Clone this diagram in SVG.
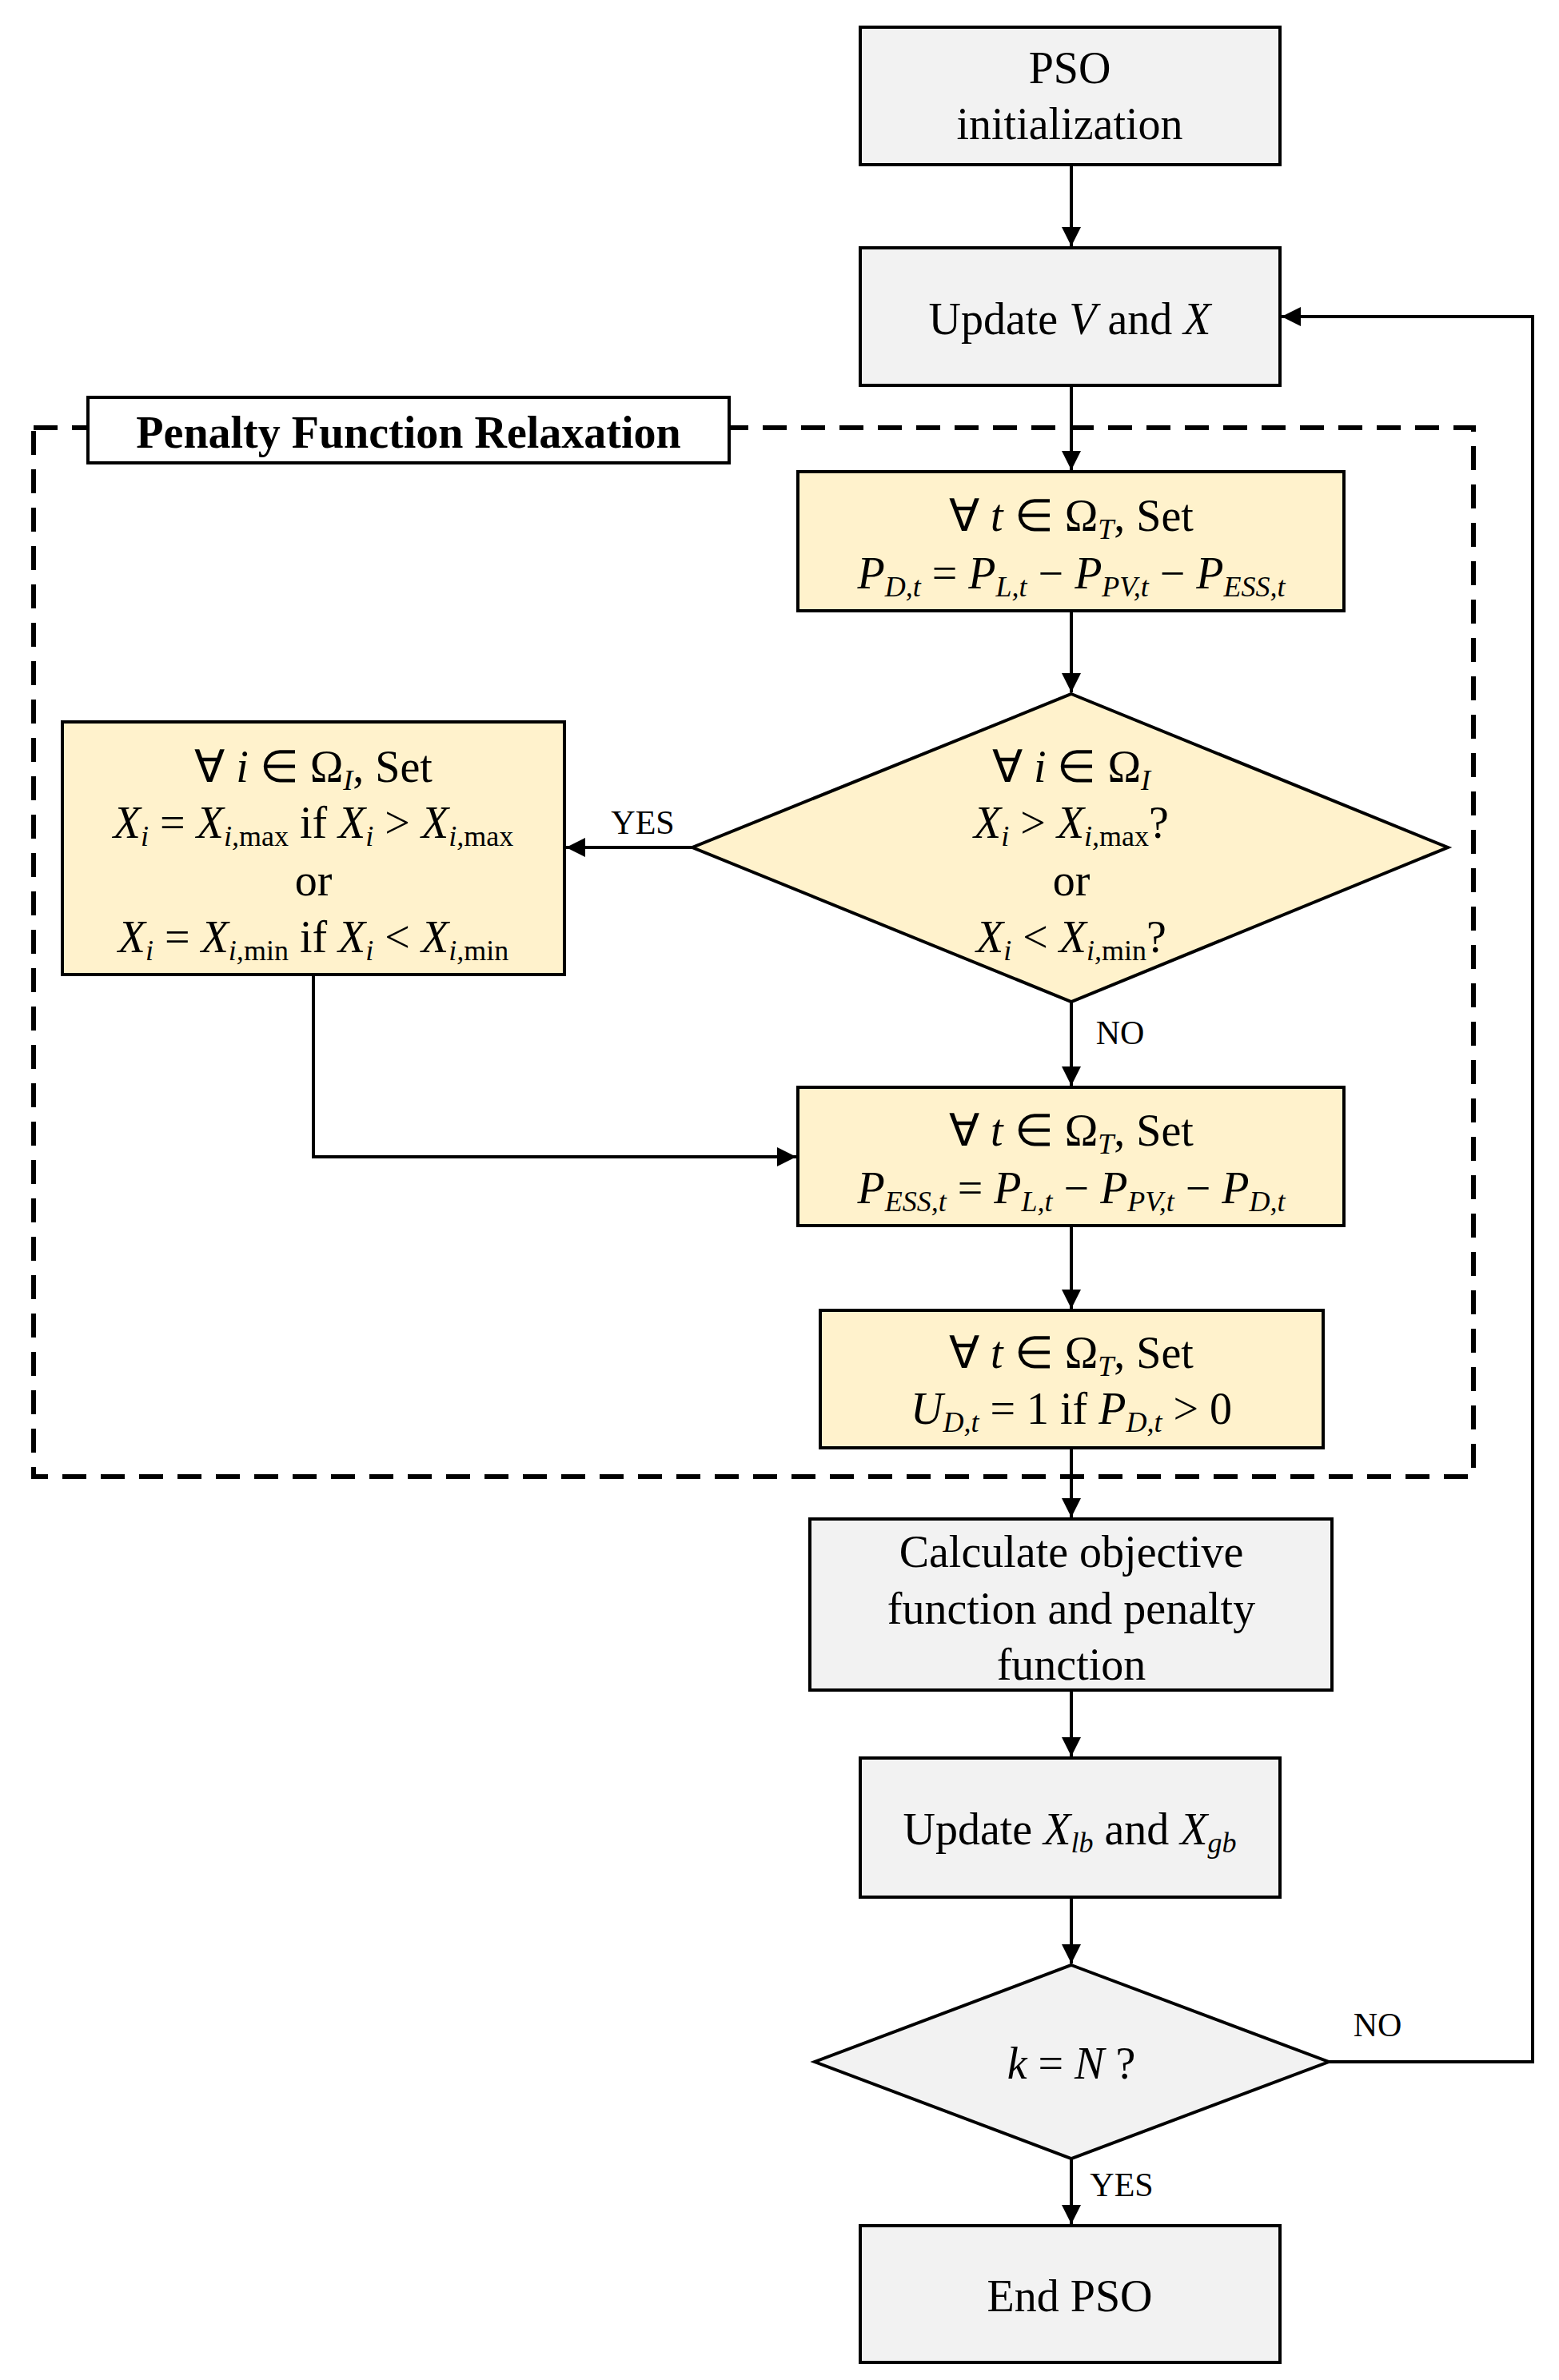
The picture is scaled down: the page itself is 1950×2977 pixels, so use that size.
<svg xmlns="http://www.w3.org/2000/svg" width="1950" height="2977" viewBox="0 0 1950 2977">
<style>
text{font-family:"Liberation Serif","Times New Roman",serif;font-size:56px;fill:#000;text-anchor:middle}
.g{fill:#f2f2f2;stroke:#000;stroke-width:4}
.y{fill:#fff2cc;stroke:#000;stroke-width:4}
.c{fill:none;stroke:#000;stroke-width:4}
.i{font-style:italic}
.s{font-size:36px;font-style:italic}
.l{font-size:42px}
</style>
<defs><marker id="ah" viewBox="0 0 10 10" refX="10" refY="5" markerWidth="6" markerHeight="6" orient="auto"><path d="M0,0L10,5L0,10z" fill="#000"/></marker></defs>
<g id="frame"><rect x="42" y="535" width="1801" height="1312" fill="none" stroke="#000" stroke-width="6" stroke-dasharray="30,18"/>
<rect x="110" y="497" width="802" height="82" fill="#fff" stroke="#000" stroke-width="4"/>
<text x="511" y="560" font-weight="bold" font-size="58">Penalty Function Relaxation</text></g>
<g id="connectors" class="c" marker-end="url(#ah)">
<path d="M1340,206V308"/><path d="M1340,482V588"/><path d="M1340,764V866"/>
<path d="M866,1060H708"/><path d="M1340,1253V1358"/><path d="M392,1219V1447H996"/>
<path d="M1340,1533V1637"/><path d="M1340,1811V1898"/><path d="M1340,2114V2197"/>
<path d="M1340,2373V2456"/><path d="M1340,2700V2782"/><path d="M1662,2579H1917V396H1603"/>
</g>
<g id="labels"><text x="804" y="1043" class="l">YES</text><text x="1401" y="1306" class="l">NO</text><text x="1723" y="2547" class="l">NO</text><text x="1403" y="2747" class="l">YES</text></g>
<g id="n1"><rect class="g" x="1076" y="34" width="525" height="172"/><text x="1338" y="104">PSO</text><text x="1338" y="174">initialization</text></g>
<g id="n2"><rect class="g" x="1076" y="310" width="525" height="172"/><text x="1338" y="418">Update <tspan class="i">V</tspan> and <tspan class="i">X</tspan></text></g>
<g id="n3"><rect class="y" x="998" y="590" width="683" height="174"/><text x="1340" y="664">∀ <tspan class="i">t</tspan> ∈  Ω<tspan class="s" dy="10">T</tspan><tspan dy="-10">, Set</tspan></text>
<text x="1340" y="736"><tspan class="i">P</tspan><tspan class="s" dy="10">D,t</tspan><tspan dy="-10"> = </tspan><tspan class="i">P</tspan><tspan class="s" dy="10">L,t</tspan><tspan dy="-10"> − </tspan><tspan class="i">P</tspan><tspan class="s" dy="10">PV,t</tspan><tspan dy="-10"> − </tspan><tspan class="i">P</tspan><tspan class="s" dy="10">ESS,t</tspan></text></g>
<g id="n4"><polygon class="y" points="1340,868 1811,1060 1340,1253 866,1060"/>
<text x="1340" y="978">∀ <tspan class="i">i</tspan> ∈  Ω<tspan class="s" dy="10">I</tspan></text>
<text x="1340" y="1048"><tspan class="i">X</tspan><tspan class="s" dy="10">i</tspan><tspan dy="-10"> &gt; </tspan><tspan class="i">X</tspan><tspan class="s" dy="10">i,</tspan><tspan font-size="36">max</tspan><tspan dy="-10">?</tspan></text>
<text x="1340" y="1120">or</text>
<text x="1340" y="1191"><tspan class="i">X</tspan><tspan class="s" dy="10">i</tspan><tspan dy="-10"> &lt; </tspan><tspan class="i">X</tspan><tspan class="s" dy="10">i,</tspan><tspan font-size="36">min</tspan><tspan dy="-10">?</tspan></text></g>
<g id="n5"><rect class="y" x="78" y="903" width="628" height="316"/>
<text x="392" y="978">∀ <tspan class="i">i</tspan> ∈  Ω<tspan class="s" dy="10">I</tspan><tspan dy="-10">, Set</tspan></text>
<text x="392" y="1048"><tspan class="i">X</tspan><tspan class="s" dy="10">i</tspan><tspan dy="-10"> = </tspan><tspan class="i">X</tspan><tspan class="s" dy="10">i,</tspan><tspan font-size="36">max</tspan><tspan dy="-10">  if  </tspan><tspan class="i">X</tspan><tspan class="s" dy="10">i</tspan><tspan dy="-10"> &gt; </tspan><tspan class="i">X</tspan><tspan class="s" dy="10">i,</tspan><tspan font-size="36">max</tspan></text>
<text x="392" y="1120">or</text>
<text x="392" y="1191"><tspan class="i">X</tspan><tspan class="s" dy="10">i</tspan><tspan dy="-10"> = </tspan><tspan class="i">X</tspan><tspan class="s" dy="10">i,</tspan><tspan font-size="36">min</tspan><tspan dy="-10">  if  </tspan><tspan class="i">X</tspan><tspan class="s" dy="10">i</tspan><tspan dy="-10"> &lt; </tspan><tspan class="i">X</tspan><tspan class="s" dy="10">i,</tspan><tspan font-size="36">min</tspan></text></g>
<g id="n6"><rect class="y" x="998" y="1360" width="683" height="173"/>
<text x="1340" y="1433">∀ <tspan class="i">t</tspan> ∈  Ω<tspan class="s" dy="10">T</tspan><tspan dy="-10">, Set</tspan></text>
<text x="1340" y="1505"><tspan class="i">P</tspan><tspan class="s" dy="10">ESS,t</tspan><tspan dy="-10"> = </tspan><tspan class="i">P</tspan><tspan class="s" dy="10">L,t</tspan><tspan dy="-10"> − </tspan><tspan class="i">P</tspan><tspan class="s" dy="10">PV,t</tspan><tspan dy="-10"> − </tspan><tspan class="i">P</tspan><tspan class="s" dy="10">D,t</tspan></text></g>
<g id="n7"><rect class="y" x="1026" y="1639" width="629" height="172"/>
<text x="1340" y="1711">∀ <tspan class="i">t</tspan> ∈  Ω<tspan class="s" dy="10">T</tspan><tspan dy="-10">, Set</tspan></text>
<text x="1340" y="1781"><tspan class="i">U</tspan><tspan class="s" dy="10">D,t</tspan><tspan dy="-10"> = 1  if  </tspan><tspan class="i">P</tspan><tspan class="s" dy="10">D,t</tspan><tspan dy="-10"> &gt; 0</tspan></text></g>
<g id="n8"><rect class="g" x="1013" y="1900" width="653" height="214"/>
<text x="1340" y="1960">Calculate objective</text><text x="1340" y="2031">function and penalty</text><text x="1340" y="2101">function</text></g>
<g id="n9"><rect class="g" x="1076" y="2199" width="525" height="174"/>
<text x="1338" y="2307">Update <tspan class="i">X</tspan><tspan class="s" dy="10">lb</tspan><tspan dy="-10"> and </tspan><tspan class="i">X</tspan><tspan class="s" dy="10">gb</tspan></text></g>
<g id="n10"><polygon class="g" points="1340,2458 1662,2579 1340,2700 1019,2579"/>
<text x="1340" y="2600"><tspan class="i">k</tspan> = <tspan class="i">N</tspan> ?</text></g>
<g id="n11"><rect class="g" x="1076" y="2784" width="525" height="171"/><text x="1338" y="2891">End PSO</text></g>
</svg>
